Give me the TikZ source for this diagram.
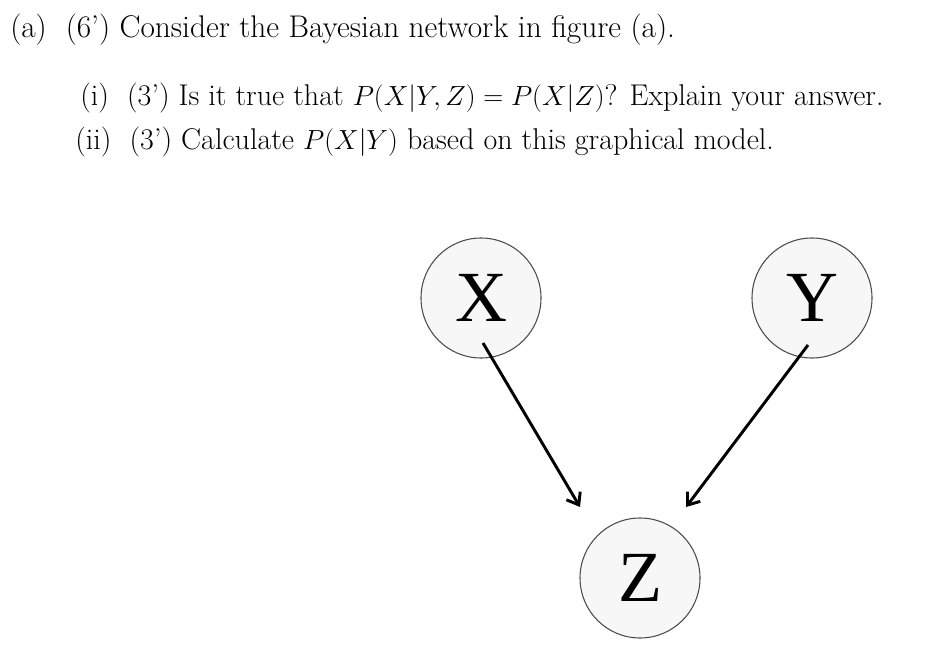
\documentclass[tikz,border=0pt]{standalone}
\usepackage{fontspec}
\newfontfamily\tms{Liberation Serif}
\usetikzlibrary{arrows.meta}
\begin{document}
\begin{tikzpicture}[x=0.75pt,y=-0.75pt,
  var/.style={circle,draw=black!70,fill=black!3,line width=0.8pt,minimum size=90pt,inner sep=0pt,font=\tms\fontsize{54}{54}\selectfont},
  txt/.style={anchor=west,inner sep=0pt,font=\fontsize{22.5}{26}\selectfont},
  edge/.style={line width=2.2pt,-{Straight Barb[length=8pt,width=12pt,line width=2.2pt]}}]
\useasboundingbox (0,0) rectangle (952,660);
\node[txt,font=\fontsize{23.5}{26}\selectfont] (t1) at (10,30) {(a)\ \ (6') Consider the Bayesian network in figure (a).};
\node[txt] (t2) at (80,98) {(i)\ \ (3') Is it true that $P(X|Y,Z)=P(X|Z)$? Explain your answer.};
\node[txt] (t3) at (75,142) {(ii)\ \ (3') Calculate $P(X|Y)$ based on this graphical model.};
\node[var] (x) at (481,298) {X};
\node[var] (y) at (812,298) {Y};
\node[var] (z) at (640,578) {Z};
\coordinate (xs) at (483,343);
\coordinate (ys) at (808,345);
\coordinate (ze1) at (580,507);
\coordinate (ze2) at (686,507);
\draw[edge] (xs) -- (ze1);
\draw[edge] (ys) -- (ze2);
\end{tikzpicture}
\end{document}
